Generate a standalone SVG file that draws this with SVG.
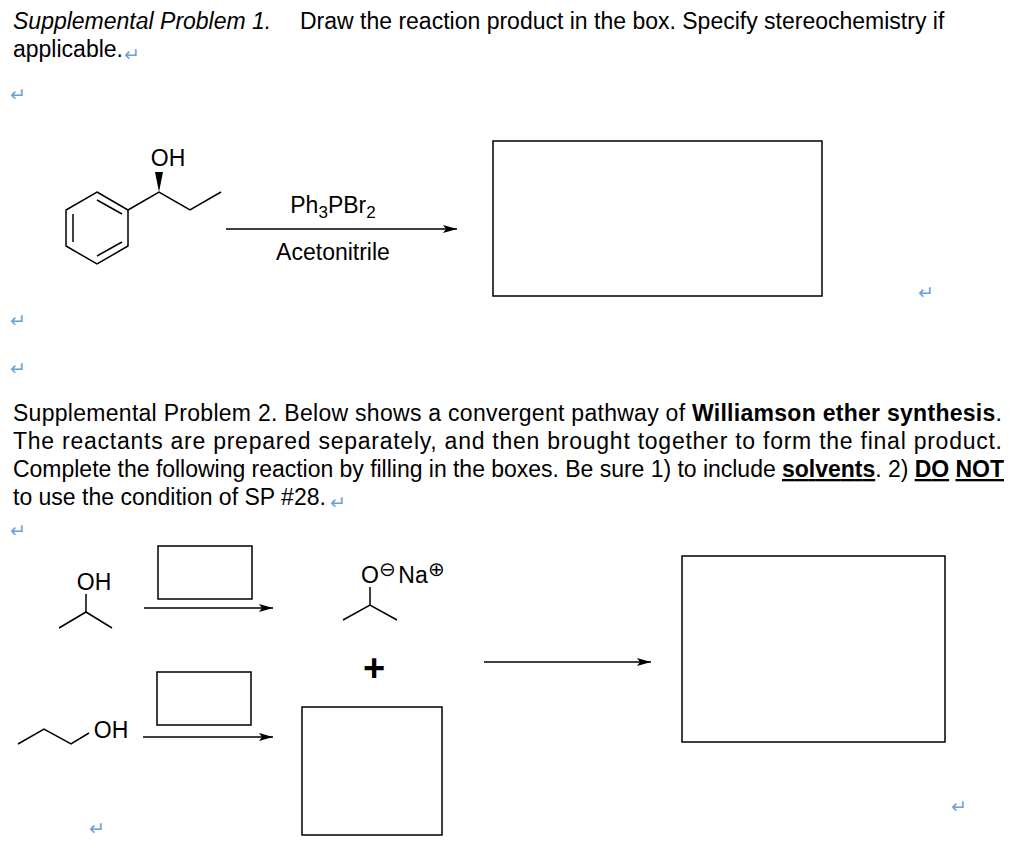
<svg xmlns="http://www.w3.org/2000/svg" width="1024" height="851" viewBox="0 0 1024 851">
<defs>
<style>
text{font-family:"Liberation Sans",Arial,sans-serif;fill:#000}
.t{font-size:23px}
.c{font-size:23px}
.p{font-size:19px;fill:#6a9fd8;font-family:"DejaVu Sans",sans-serif}
.b{fill:none;stroke:#000;stroke-width:1.5}
.l{fill:none;stroke:#000;stroke-width:1.5}
.a{stroke:#000;stroke-width:1.3;fill:none;marker-end:url(#ah)}
</style>
<marker id="ah" markerWidth="14" markerHeight="8" refX="14" refY="4" orient="auto" markerUnits="userSpaceOnUse"><path d="M0,0 L14,4 L0,8 L3,4 Z" fill="#000"/></marker>
</defs>
<rect width="1024" height="851" fill="#fff"/>
<g id="text1">
<text class="t" x="13" y="29"><tspan font-style="italic">Supplemental Problem 1.</tspan><tspan x="300">Draw the reaction product in the box. Specify stereochemistry if</tspan></text>
<text class="t" x="13" y="57">applicable.</text>
<text class="p" x="124" y="61">↵</text>
<text class="p" x="10" y="101">↵</text>
<text class="p" x="10" y="327">↵</text>
<text class="p" x="10" y="375">↵</text>
<text class="p" x="918" y="299">↵</text>
</g>
<g id="mol1">
<polygon class="l" points="97,192 128,210 128,246 97,264 66,246 66,210"/>
<line class="l" x1="73" y1="214" x2="73" y2="242"/>
<line class="l" x1="97" y1="256" x2="122" y2="242"/>
<line class="l" x1="97" y1="200" x2="122" y2="214"/>
<polyline class="l" points="128,210 159,192 190,210 221,192"/>
<polygon points="159,192 155,172 163,172" fill="#000"/>
<text class="c" x="168" y="166" text-anchor="middle">OH</text>
</g>
<g id="conn">
<line class="a" x1="226" y1="229" x2="457" y2="229"/>
<line class="a" x1="144" y1="608" x2="273" y2="608"/>
<line class="a" x1="143" y1="737" x2="273" y2="737"/>
<line class="a" x1="484" y1="662" x2="651" y2="662"/>
</g>
<g id="cond1">
<text class="c" x="333" y="213" text-anchor="middle">Ph<tspan font-size="17" dy="5">3</tspan><tspan dy="-5">PBr</tspan><tspan font-size="17" dy="5">2</tspan></text>
<text class="c" x="333" y="260" text-anchor="middle">Acetonitrile</text>
</g>
<rect id="box1" class="b" x="493" y="141" width="329" height="155"/>
<g id="text2">
<text class="t" x="13" y="421" textLength="989" lengthAdjust="spacing">Supplemental Problem 2. Below shows a convergent pathway of <tspan font-weight="bold">Williamson ether synthesis</tspan>.</text>
<text class="t" x="13" y="449" textLength="989" lengthAdjust="spacing">The reactants are prepared separately, and then brought together to form the final product.</text>
<text class="t" x="13" y="477" textLength="991" lengthAdjust="spacing">Complete the following reaction by filling in the boxes. Be sure 1) to include <tspan font-weight="bold" text-decoration="underline">solvents</tspan>. 2) <tspan font-weight="bold" text-decoration="underline">DO</tspan> <tspan font-weight="bold" text-decoration="underline">NOT</tspan></text>
<text class="t" x="13" y="505">to use the condition of SP #28.</text>
<text class="p" x="330" y="509">↵</text>
<text class="p" x="10" y="537">↵</text>
<text class="p" x="89" y="835">↵</text>
<text class="p" x="951" y="813">↵</text>
</g>
<g id="isopropanol">
<text class="c" x="94" y="590" text-anchor="middle">OH</text>
<polyline class="l" points="59,628 86,612 112,628"/>
<line class="l" x1="86" y1="594" x2="86" y2="612"/>
</g>
<rect id="boxA" class="b" x="158" y="546" width="94" height="53"/>
<g id="alkoxide">
<text class="c" x="370" y="583" text-anchor="middle">O</text>
<text x="387" y="576" font-size="20" text-anchor="middle" font-family="DejaVu Sans,sans-serif">⊖</text>
<text class="c" x="413" y="583" text-anchor="middle">Na</text>
<text x="436" y="576" font-size="20" text-anchor="middle" font-family="DejaVu Sans,sans-serif">⊕</text>
<line class="l" x1="370" y1="587" x2="370" y2="605"/>
<polyline class="l" points="343,620 370,605 397,620"/>
</g>
<text id="plus" x="374" y="681" font-size="38" font-weight="bold" text-anchor="middle">+</text>
<rect id="boxB" class="b" x="157" y="672" width="94" height="53"/>
<g id="propanol">
<polyline class="l" points="18,744 44,729 71,744 89,733"/>
<text class="c" x="111" y="738" text-anchor="middle">OH</text>
</g>
<rect id="boxC" class="b" x="302" y="707" width="140" height="128"/>
<rect id="boxD" class="b" x="682" y="556" width="263" height="186"/>
</svg>
